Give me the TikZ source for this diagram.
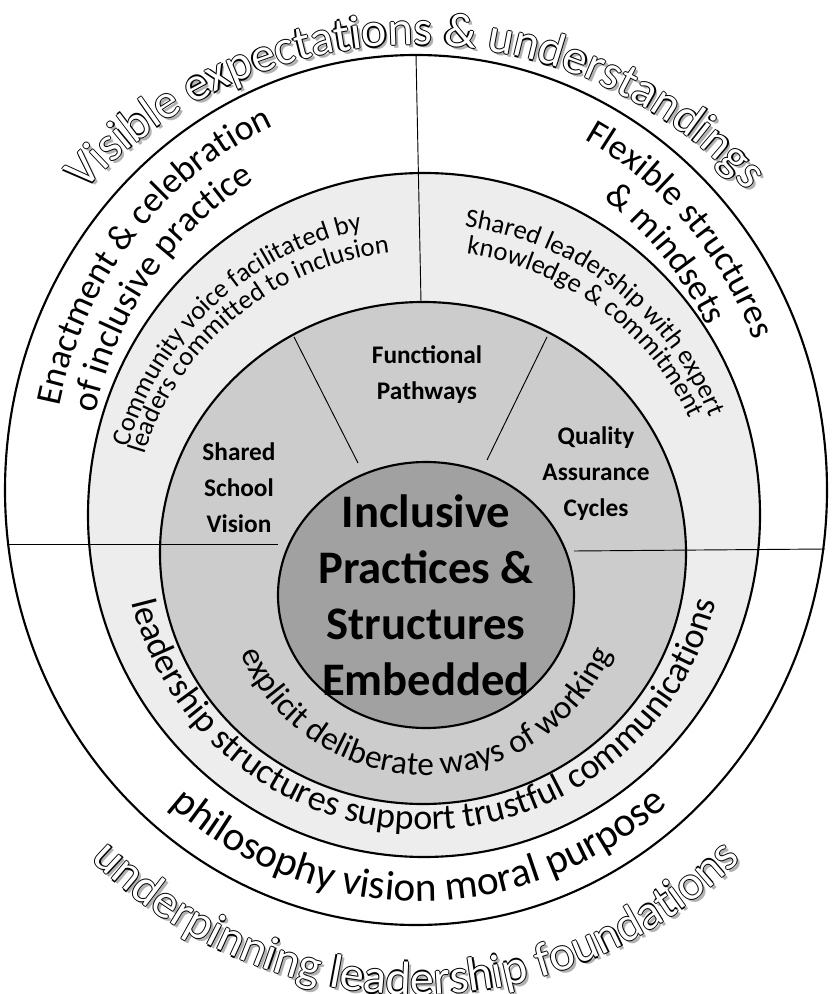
\documentclass[tikz,border=0pt]{standalone}
\usepackage{fontspec}
\setmainfont{Carlito}
\usetikzlibrary{decorations.text,calc}
\tikzset{
  ring/.style={draw=black,line width=1.6pt},
  divider/.style={draw=black,line width=0.7pt},
  curved/.style={decorate,decoration={text along path,text align=center,text={#1}}},
  seg/.style={font=\fontsize{19}{21}\selectfont\bfseries,align=center},
}
\begin{document}
\begin{tikzpicture}[x=0.75pt,y=0.75pt]
\useasboundingbox (0,0) rectangle (833,-994);
\fill[white] (0,0) rectangle (833,-994);
\path[ring,fill=white] (416,-490) ellipse[x radius=411,y radius=435];
\path[ring,fill=black!7] (424,-515) ellipse[x radius=336,y radius=342];
\coordinate (vt) at (416,-55);
\coordinate (vb) at (421,-302);
\draw[divider] (vt) -- (vb);
\path[ring,fill=black!20] (423,-553) ellipse[x radius=263,y radius=251];
\coordinate (hl1) at (8,-544); \coordinate (hl2) at (278,-544);
\coordinate (hr1) at (574,-551); \coordinate (hr2) at (825,-549);
\draw[divider] (hl1) -- (hl2);
\draw[divider] (hr1) -- (hr2);
\coordinate (d1a) at (294,-337); \coordinate (d1b) at (358,-463);
\coordinate (d2a) at (547,-337); \coordinate (d2b) at (487,-460);
\draw[divider] (d1a) -- (d1b);
\draw[divider] (d2a) -- (d2b);
\path[ring,fill=black!37] (426,-595) ellipse[x radius=148,y radius=133];

\node[seg] (fp) at (427,-375) {Functional\\[6pt]Pathways};
\node[seg] (ssv) at (239,-488) {Shared\\[6pt]School\\[6pt]Vision};
\node[seg] (qac) at (596,-474) {Quality\\[6pt]Assurance\\[6pt]Cycles};
\node[font=\fontsize{35}{38}\selectfont\bfseries,align=center] (core) at (426,-595) {Inclusive\\[4pt]Practices \&\\[4pt]Structures\\[4pt]Embedded};

{\fontsize{27}{30}\selectfont
\path[curved={Enactment {\&} celebration}] ($(416,-490)+(178:365 and 395)$) arc[start angle=178,end angle=102,x radius=365,y radius=395];
\path[curved={of inclusive practice}] ($(416,-490)+(181:328 and 355)$) arc[start angle=181,end angle=105,x radius=328,y radius=355];
\path[curved={Flexible structures}] ($(416,-490)+(81:365 and 395)$) arc[start angle=81,end angle=5,x radius=365,y radius=395];
\path[curved={{\&} mindsets}] ($(416,-490)+(80:328 and 355)$) arc[start angle=80,end angle=4,x radius=328,y radius=355];
\path[curved={leadership structures support trustful communications}] ($(424,-534)+(180:300 and 296)$) arc[start angle=180,end angle=360,x radius=300,y radius=296];
}
{\fontsize{20}{22}\selectfont
\path[curved={Community voice facilitated by}] ($(424,-530)+(172:307 and 306)$) arc[start angle=172,end angle=94,x radius=307,y radius=306];
\path[curved={leaders committed to inclusion}] ($(424,-538)+(169:292 and 287)$) arc[start angle=169,end angle=91,x radius=292,y radius=287];
\path[curved={Shared leadership with expert}] ($(424,-530)+(91:307 and 306)$) arc[start angle=91,end angle=13,x radius=307,y radius=306];
\path[curved={knowledge {\&} commitment}] ($(424,-538)+(92:292 and 287)$) arc[start angle=92,end angle=14,x radius=292,y radius=287];
}
{\fontsize{31}{34}\selectfont
\path[curved={philosophy vision moral purpose}] ($(419,-498)+(210:386 and 403)$) arc[start angle=210,end angle=330,x radius=386,y radius=403];
}
{\fontsize{25}{28}\selectfont
\path[curved={explicit deliberate ways of working}] ($(426,-580)+(185:200 and 195)$) arc[start angle=185,end angle=355,x radius=200,y radius=195];
}
{\fontsize{36}{40}\selectfont
\foreach \dx/\dy/\col in {3/-3/black!30, -1.2/0/black, 1.2/0/black, 0/1.2/black, 0/-1.2/black, 0/0/white} {
\path[decorate,decoration={text along path,text align=center,text color=\col,text={Visible expectations {\&} understandings}}] ($(416+\dx,-490+\dy)+(148:447 and 445)$) arc[start angle=148,end angle=32,x radius=447,y radius=445];
\path[decorate,decoration={text along path,text align=center,text color=\col,text={underpinning leadership foundations}}] ($(416+\dx,-490+\dy)+(215:477 and 505)$) arc[start angle=215,end angle=325,x radius=477,y radius=505];
}
}
\end{tikzpicture}
\end{document}
